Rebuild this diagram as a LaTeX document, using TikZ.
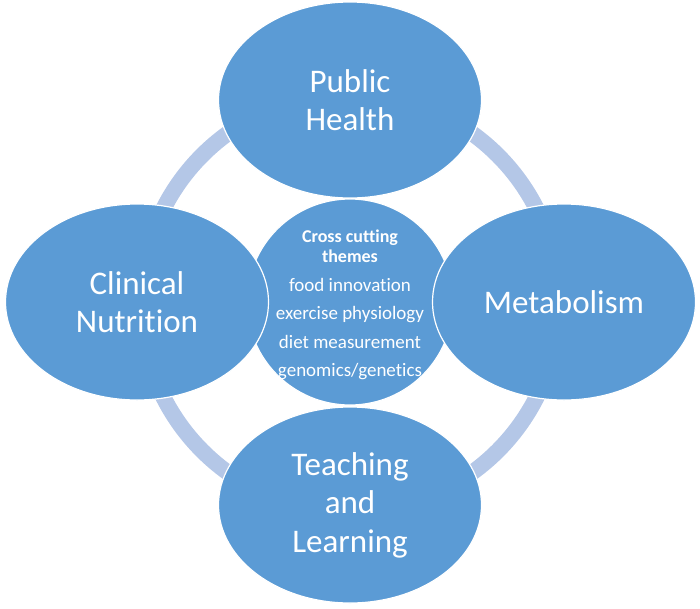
\documentclass[tikz,border=0pt]{standalone}
\usepackage{fontspec}
\setmainfont{Carlito}[Ligatures=NoCommon]
\usetikzlibrary{shapes.geometric}
\definecolor{petal}{HTML}{5B9BD5}
\definecolor{ringcol}{HTML}{B4C7E7}
\begin{document}
\begin{tikzpicture}[x=1pt,y=-1pt,
  petalbox/.style={ellipse, fill=petal, draw=white, line width=1.2pt,
    minimum width=263pt, minimum height=196pt, inner sep=0pt,
    text=white, align=center, font=\fontsize{33}{38.5}\selectfont},
  hubbox/.style={circle, fill=petal, draw=white, line width=1.2pt,
    minimum size=206pt, inner sep=0pt, text=white, align=center,
    font=\fontsize{19}{28.5}\selectfont},
  ringbox/.style={circle, draw=ringcol, line width=16pt, minimum size=418pt, inner sep=0pt}]
\useasboundingbox (0,0) rectangle (700,608);
\node[ringbox] (ring) at (350,303) {};
\node[hubbox, text depth=0pt] (hub) at (350,302) {};
\node[text=white, align=center, font=\fontsize{19}{28.5}\selectfont, inner sep=0pt] (hubtext) at (350,305) {\textbf{\fontsize{18}{20}\selectfont Cross cutting}\\[-8.5pt]\textbf{\fontsize{18}{20}\selectfont themes}\\food innovation\\exercise physiology\\diet measurement\\genomics/genetics};
\node[petalbox] (public) at (350,100) {Public\\Health};
\node[petalbox] (clinical) at (137,302) {Clinical\\Nutrition};
\node[petalbox] (metab) at (564,302) {Metabolism};
\node[petalbox] (teach) at (350,505) {Teaching\\and\\Learning};
\end{tikzpicture}
\end{document}
